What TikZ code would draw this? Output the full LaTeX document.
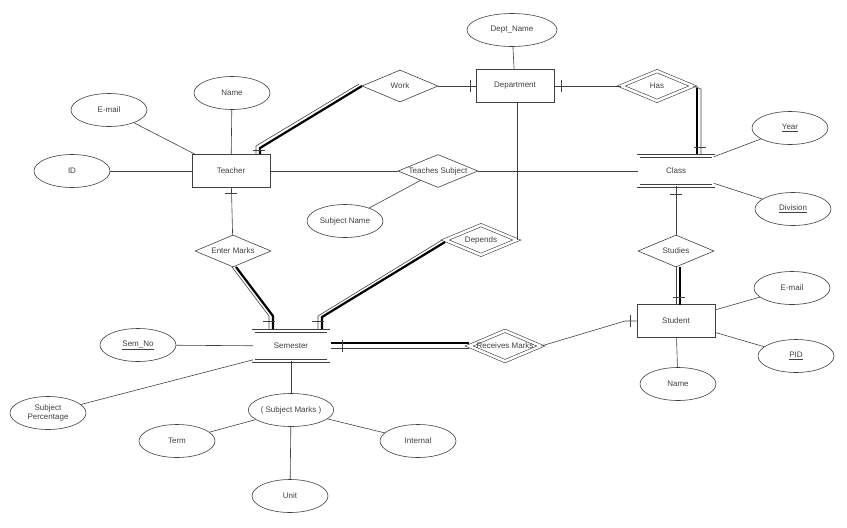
\documentclass[tikz,border=0pt]{standalone}
\usepackage{fontspec}
\setmainfont{Liberation Sans}
\usetikzlibrary{shapes.geometric}
\begin{document}
\begin{tikzpicture}[x=1pt,y=-1pt,line width=0.6pt,draw=black!75,
 every node/.style={font=\fontsize{8}{9}\selectfont,text=black!75},
 attr/.style={draw=black!75,ellipse,minimum width=76pt,minimum height=33pt,inner sep=0pt},
 ent/.style={draw=black!75,rectangle,minimum width=78pt,minimum height=33pt},
 went/.style={ent,double,double distance=2.5pt,minimum width=75pt,minimum height=30pt},
 rel/.style={draw=black!75,diamond,aspect=2.3,minimum width=76pt,minimum height=32pt,inner sep=0pt},
 wrel/.style={rel,double,double distance=2.5pt,minimum width=72pt,minimum height=30pt},
 thk/.style={line width=2.2pt,draw=black},
 thn/.style={line width=0.6pt}]
\useasboundingbox (0,0) rectangle (847,528);
% entities
\node[ent] (dept) at (515,86) {Department};
\node[ent] (teacher) at (231,171) {Teacher};
\node[went] (class) at (676,171) {Class};
\node[went] (sem) at (291,346) {Semester};
\node[ent] (student) at (676,321) {Student};
% relations
\node[rel] (work) at (400,86) {Work};
\node[wrel] (has) at (657,86) {Has};
\node[rel,minimum width=80pt] (teaches) at (438,171) {Teaches Subject};
\node[rel] (enter) at (233,251) {Enter Marks};
\node[wrel] (depends) at (481,240) {Depends};
\node[rel] (studies) at (676,251) {Studies};
\node[wrel] (recv) at (505,346) {Receives Marks};
% attributes
\node[attr,minimum width=90pt] (dname) at (512,30) {Dept\_Name};
\node[attr] (tname) at (232,93) {Name};
\node[attr] (temail) at (109,110) {E-mail};
\node[attr] (tid) at (72,171) {ID};
\node[attr] (year) at (790,128) {\underline{Year}};
\node[attr] (div) at (793,209) {\underline{Division}};
\node[attr] (subname) at (345,221) {Subject Name};
\node[attr] (semail) at (792,288) {E-mail};
\node[attr] (pid) at (796,356) {\underline{PID}};
\node[attr] (sname) at (678,384) {Name};
\node[attr] (semno) at (138,345) {\underline{Sem\_No}};
\node[attr,align=center] (spct) at (48,413) {Subject\\Percentage};
\node[attr,minimum width=80pt] (smarks) at (291,410) {( Subject Marks )};
\node[attr] (term) at (177,441) {Term};
\node[attr] (internal) at (418,441) {Internal};
\node[attr] (unit) at (290,496) {Unit};
% plain connectors
\draw (dname) -- (dept);
\draw (tname) -- (teacher);
\draw (temail) -- (teacher.155);
\draw (tid) -- (teacher);
\draw (teacher) -- (teaches) -- (class);
\draw (teaches) -- (subname);
\draw (class) -- (year);
\draw (class) -- (div);
\draw (student) -- (semail);
\draw (student) -- (pid);
\draw (student) -- (sname);
\draw (sem) -- (semno);
\draw (sem.200) -- (spct);
\draw (sem) -- (smarks);
\draw (smarks) -- (term);
\draw (smarks) -- (internal);
\draw (smarks) -- (unit);
\draw (work) -- (dept);
\draw (dept) -- (has);
\draw (dept.south -| depends.east) -- (depends.east);
\draw (teacher) -- (enter);
\draw (class) -- (studies);
\coordinate (rk) at (625,321);
\draw (recv.east) -- (rk) -- (student.west);
% ticks
\draw (470,80) -- (470,92);
\draw (561,80) -- (561,92);
\draw (225,193) -- (237,193);
\draw (670,194) -- (682,194);
\draw (630,315) -- (630,327);
% total participation (double) lines
\draw[thn] (256,154) -- (256,146) -- (359,84);
\draw[thk] (260,154) -- (260,148) -- (362,86);
\draw (253,150) -- (265,150);
\draw[thn] (701,154) -- (701,89) -- (has.east);
\draw[thk] (697,154) -- (697,88);
\draw (694,147) -- (706,147);
\draw[thn] (676,305) -- (676,267);
\draw[thk] (680,305) -- (680,267);
\draw (673,297) -- (685,297);
\draw[thk] (273,329) -- (273,316) -- (236,267);
\draw[thn] (269,329) -- (269,316) -- (232,267);
\draw (263,321) -- (275,321);
\draw[thk] (322,329) -- (322,317) -- (445,242);
\draw[thn] (318,329) -- (318,316) -- (442,240);
\draw (312,321) -- (324,321);
\draw[thk] (331,343) -- (469,343);
\draw[thn] (331,348) -- (469,348);
\draw (342,340) -- (342,352);
\end{tikzpicture}
\end{document}
